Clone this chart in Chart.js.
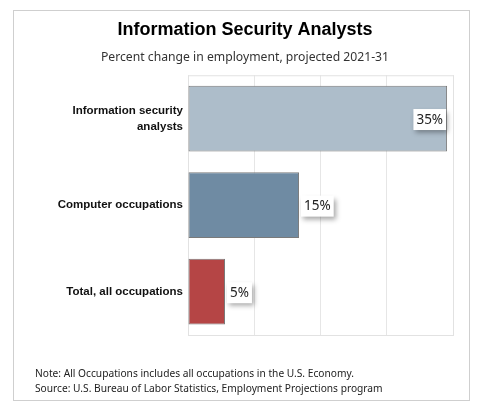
<!DOCTYPE html>
<html>
<head>
<meta charset="utf-8">
<script src="https://cdn.jsdelivr.net/npm/chart.js@4"></script>
<style>
  html, body { margin: 0; padding: 0; background: #fff; }
  #wrap { position: relative; width: 478px; height: 407px; }
  #frame { position: absolute; left: 13px; top: 10px; width: 455px; height: 389px; border: 1px solid #cfcfcf; }
  canvas { position: absolute; left: 0; top: 0; }
  .note { position: absolute; left: 35px; font-family: "Noto Sans", "DejaVu Sans", sans-serif; font-size: 10.2px; color: #222; white-space: nowrap; }
</style>
</head>
<body>
<div id="wrap">
  <div id="frame"></div>
  <canvas id="c" width="478" height="407"></canvas>
  <div class="note" style="top:366px">Note: All Occupations includes all occupations in the U.S. Economy.</div>
  <div class="note" style="top:381px">Source: U.S. Bureau of Labor Statistics, Employment Projections program</div>
</div>
<script>
const categories = [["Information security", "analysts"], "Computer occupations", "Total, all occupations"];
const values = [35, 15, 5];
const barColors = ["#ADBDCA", "#6F8BA3", "#B54545"];
const valueLabels = ["35%", "15%", "5%"];

const frameAndLabels = {
  id: "frameAndLabels",
  beforeDatasetsDraw(chart) {
    const { ctx, chartArea: a } = chart;
    ctx.save();
    ctx.strokeStyle = "#e2e2e2";
    ctx.lineWidth = 1;
    ctx.strokeRect(a.left + 0.5, a.top + 0.5, a.right - a.left, a.bottom - a.top);
    ctx.restore();
  },
  afterDatasetsDraw(chart) {
    const { ctx, chartArea: a } = chart;
    const meta = chart.getDatasetMeta(0);
    ctx.save();
    ctx.font = '13.5px "Noto Sans", "DejaVu Sans", sans-serif';
    meta.data.forEach((bar, i) => {
      const txt = valueLabels[i];
      const tw = ctx.measureText(txt).width;
      const w = tw + 6, h = 21;
      let x = bar.x + 2;
      if (x + w > a.right - 2) x = bar.x - 1 - w;
      const y = bar.y - h / 2 + 1;
      ctx.save();
      ctx.shadowColor = "rgba(0,0,0,0.35)";
      ctx.shadowBlur = 5;
      ctx.shadowOffsetX = 2;
      ctx.shadowOffsetY = 3;
      ctx.fillStyle = "#fff";
      ctx.fillRect(x, y, w, h);
      ctx.restore();
      ctx.fillStyle = "#222";
      ctx.textBaseline = "middle";
      ctx.textAlign = "left";
      ctx.fillText(txt, x + 3, y + h / 2 + 0.5);
    });
    ctx.restore();
  }
};

new Chart(document.getElementById("c"), {
  type: "bar",
  data: {
    labels: categories,
    datasets: [{
      data: values,
      backgroundColor: barColors,
      borderColor: "#7a7a7a",
      borderWidth: 1,
      borderSkipped: false,
      categoryPercentage: 1,
      barPercentage: 0.76
    }]
  },
  options: {
    indexAxis: "y",
    responsive: false,
    animation: false,
    devicePixelRatio: 1,
    layout: { padding: { left: 37, right: 25, top: 0, bottom: 72 } },
    plugins: {
      legend: { display: false },
      tooltip: { enabled: false },
      title: {
        display: true,
        text: "Information Security Analysts",
        color: "#000",
        font: { family: '"Liberation Sans", Arial, sans-serif', size: 18, weight: "bold", lineHeight: 1.2 },
        padding: { top: 19, bottom: 0 }
      },
      subtitle: {
        display: true,
        text: "Percent change in employment, projected 2021-31",
        color: "#333",
        font: { family: '"Noto Sans", "DejaVu Sans", sans-serif', size: 12.2, lineHeight: 1.2 },
        padding: { top: 10, bottom: 10 }
      }
    },
    scales: {
      x: {
        min: 0, max: 35.8,
        ticks: { display: false, stepSize: 8.95 },
        grid: { color: "#e6e6e6", drawTicks: false },
        border: { display: false }
      },
      y: {
        ticks: {
          color: "#111",
          padding: 5,
          font: { family: '"Liberation Sans", Arial, sans-serif', size: 11.5, weight: "bold", lineHeight: 1.4 }
        },
        grid: { display: false, drawTicks: false },
        border: { display: false },
        afterFit(scale) { scale.width = 151; }
      }
    }
  },
  plugins: [frameAndLabels]
});
</script>
</body>
</html>
